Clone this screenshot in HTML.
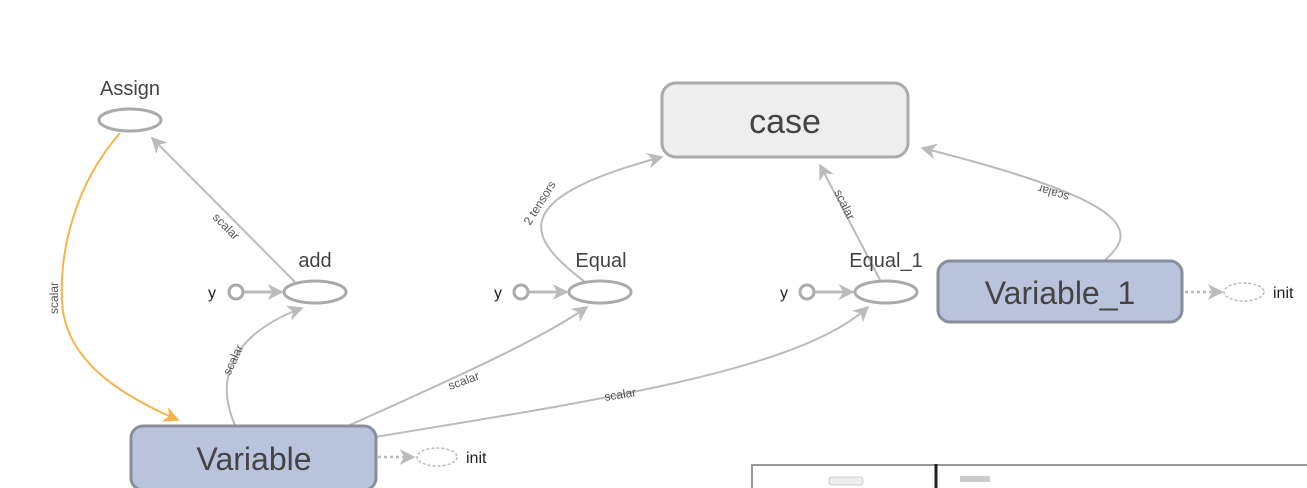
<!DOCTYPE html>
<html><head><meta charset="utf-8"><style>
html,body{margin:0;padding:0;background:#fff;width:1307px;height:488px;overflow:hidden}
text{font-family:"Liberation Sans",sans-serif}
</style></head><body>
<svg width="1307" height="488" viewBox="0 0 1307 488" xmlns="http://www.w3.org/2000/svg">
<defs>
<marker id="a" viewBox="0 0 10 10" refX="9" refY="5" markerWidth="7" markerHeight="7" orient="auto" markerUnits="userSpaceOnUse">
<path d="M0,0 L10,5 L0,10 L3,5 z" fill="#aaa"/></marker>
<marker id="ag" viewBox="0 0 10 10" refX="9" refY="5" markerWidth="20" markerHeight="16" orient="auto" markerUnits="userSpaceOnUse">
<path d="M0,0 L10,5 L0,10 L3,5 z" fill="#bbb"/></marker>
<marker id="ao" viewBox="0 0 10 10" refX="9" refY="5" markerWidth="20" markerHeight="16" orient="auto" markerUnits="userSpaceOnUse">
<path d="M0,0 L10,5 L0,10 L3,5 z" fill="#f9b24a"/></marker>
</defs>
<g fill="none" stroke="#bbb" stroke-width="2">
<path d="M295,282 L152,138" marker-end="url(#ag)"/>
<path d="M235,425 C215,380 230,335 302,308" marker-end="url(#ag)"/>
<path d="M350,425 C450,380 540,340 587,307" marker-end="url(#ag)"/>
<path d="M375,437 C600,400 800,370 868,307" marker-end="url(#ag)"/>
<path d="M585,282 C530,240 500,200 662,157" marker-end="url(#ag)"/>
<path d="M880,280 L820,165" marker-end="url(#ag)"/>
<path d="M1105,260 C1140,230 1130,200 922,148" marker-end="url(#ag)"/>
<path d="M120,133 C70,190 60,260 62,300 C64,360 120,395 178,420" stroke="#f9b24a" marker-end="url(#ao)"/>
<path d="M244,292 L282,292" stroke-width="3" marker-end="url(#ag)"/>
<path d="M529,292 L567,292" stroke-width="3" marker-end="url(#ag)"/>
<path d="M815,292 L853,292" stroke-width="3" marker-end="url(#ag)"/>
<path d="M378,457 L414,457" stroke-width="2.5" stroke-dasharray="3,3" marker-end="url(#ag)"/>
<path d="M1185,292 L1222,292" stroke-width="2.5" stroke-dasharray="3,3" marker-end="url(#ag)"/>
</g>
<g font-size="12" fill="#555">
<text transform="translate(212,218) rotate(45)">scalar</text>
<text transform="translate(230,376) rotate(-65)">scalar</text>
<text transform="translate(450,390) rotate(-20)">scalar</text>
<text transform="translate(605,401) rotate(-9)">scalar</text>
<text transform="translate(530,226) rotate(-58)">2 tensors</text>
<text transform="translate(834,192) rotate(64)">scalar</text>
<text transform="translate(1070,194) rotate(197)">scalar</text>
<text transform="translate(58,314) rotate(-90)">scalar</text>
</g>
<g fill="#fff" stroke="#aaa" stroke-width="3">
<ellipse cx="130" cy="120" rx="31" ry="11"/>
<ellipse cx="315" cy="292" rx="31" ry="11"/>
<ellipse cx="600" cy="292" rx="31" ry="11"/>
<ellipse cx="886" cy="292" rx="31" ry="11"/>
<circle cx="236" cy="292" r="7"/>
<circle cx="521" cy="292" r="7"/>
<circle cx="807" cy="292" r="7"/>
</g>
<g fill="none" stroke="#bbb" stroke-width="1.5" stroke-dasharray="3,2">
<ellipse cx="437" cy="457" rx="20" ry="9"/>
<ellipse cx="1244" cy="292" rx="20" ry="9"/>
</g>
<rect x="662" y="83" width="246" height="74" rx="14" fill="#eee" stroke="#aaa" stroke-width="3"/>
<rect x="938" y="261" width="244" height="61" rx="12" fill="#b9c4dc" stroke="#888e9e" stroke-width="3"/>
<rect x="131" y="426" width="245" height="64" rx="12" fill="#b9c4dc" stroke="#888e9e" stroke-width="3"/>
<g fill="#444" text-anchor="middle">
<text x="785" y="133" font-size="34">case</text>
<text x="1060" y="304" font-size="32">Variable_1</text>
<text x="254" y="470" font-size="32">Variable</text>
<text x="130" y="95" font-size="20">Assign</text>
<text x="315" y="267" font-size="20">add</text>
<text x="601" y="267" font-size="20">Equal</text>
<text x="886" y="267" font-size="20">Equal_1</text>
</g>
<g fill="#222" font-size="16">
<text x="208" y="298">y</text>
<text x="494" y="298">y</text>
<text x="780" y="298">y</text>
<text x="466" y="463">init</text>
<text x="1273" y="298">init</text>
</g>
<rect x="752" y="465" width="560" height="30" fill="#fff" stroke="#999" stroke-width="2"/>
<line x1="936" y1="464" x2="936" y2="488" stroke="#222" stroke-width="3"/>
<rect x="829" y="477" width="34" height="8" rx="3" fill="#eee" stroke="#ccc"/>
<rect x="960" y="476" width="30" height="6" fill="#ccc"/>
</svg>
</body></html>
